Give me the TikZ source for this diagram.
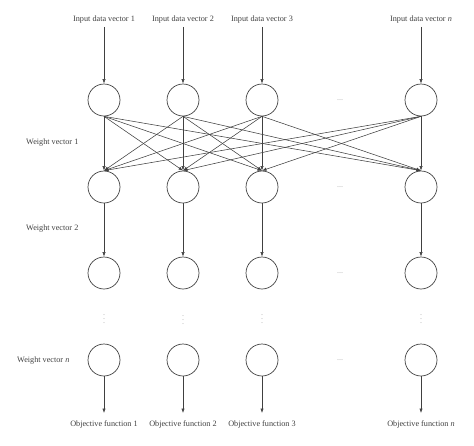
\documentclass[tikz,border=0pt]{standalone}
\usepackage{fontspec}
\setmainfont{Liberation Serif}
\usetikzlibrary{arrows.meta}
\begin{document}
\begin{tikzpicture}[x=1pt,y=-1pt,
  neuron/.style={circle,draw=black!75,line width=0.7pt,minimum size=32pt,inner sep=0pt},
  lbl/.style={font=\fontsize{8.2}{9}\selectfont,text=black!75,inner sep=0pt},
  dotlbl/.style={font=\fontsize{6}{7}\selectfont,text=black!60,inner sep=0pt},
  arr/.style={draw=black!75,line width=0.55pt,-{Latex[length=4.5pt,width=3.2pt]}}]
\useasboundingbox (0,0) rectangle (474,445);
% columns
\def\xa{104}\def\xb{183}\def\xc{262}\def\xd{421}
% input labels
\node[lbl] (in1) at (\xa,20) {Input data vector 1};
\node[lbl] (in2) at (\xb,20) {Input data vector 2};
\node[lbl] (in3) at (\xc,20) {Input data vector 3};
\node[lbl] (inn) at (\xd,20) {Input data vector \textit{n}};
% rows
\foreach \r/\y in {a/100,b/187,c/273,d/360}{
  \node[neuron] (\r1) at (\xa,\y) {};
  \node[neuron] (\r2) at (\xb,\y) {};
  \node[neuron] (\r3) at (\xc,\y) {};
  \node[neuron] (\r4) at (\xd,\y) {};
  \node[dotlbl] (dots\r) at (340,\y) {\dots};
}
% vertical dots
\node[dotlbl] (v1) at (\xa,316) {$\vdots$};
\node[dotlbl] (v2) at (\xb,317) {$\vdots$};
\node[dotlbl] (v3) at (\xc,316) {$\vdots$};
\node[dotlbl] (v4) at (\xd,316) {$\vdots$};
% side labels
\node[lbl,anchor=west] (w1) at (26,143) {Weight vector 1};
\node[lbl,anchor=west] (w2) at (26,229) {Weight vector 2};
\node[lbl,anchor=west] (wn) at (17,361) {Weight vector \textit{n}};
% output labels
\node[lbl] (o1) at (\xa,424) {Objective function 1};
\node[lbl] (o2) at (\xb,424) {Objective function 2};
\node[lbl] (o3) at (\xc,424) {Objective function 3};
\node[lbl] (on) at (\xd,424) {Objective function \textit{n}};
% input arrows
\draw[arr] (in1.south) ++(0,3) -- (a1.north);
\draw[arr] (in2.south) ++(0,3) -- (a2.north);
\draw[arr] (in3.south) ++(0,3) -- (a3.north);
\draw[arr] (inn.south) ++(0,3) -- (a4.north);
% full connections
\foreach \i in {1,2,3,4}{
  \foreach \j in {1,2,3,4}{
    \draw[arr] (a\i.south) -- (b\j.north);
  }
}
% row 2 -> row 3
\foreach \i in {1,2,3,4}{
  \draw[arr] (b\i.south) -- (c\i.north);
}
% outputs
\draw[arr] (d1.south) -- ([yshift=7pt]o1.north);
\draw[arr] (d2.south) -- ([yshift=7pt]o2.north);
\draw[arr] (d3.south) -- ([yshift=7pt]o3.north);
\draw[arr] (d4.south) -- ([yshift=7pt]on.north);
\end{tikzpicture}
\end{document}
